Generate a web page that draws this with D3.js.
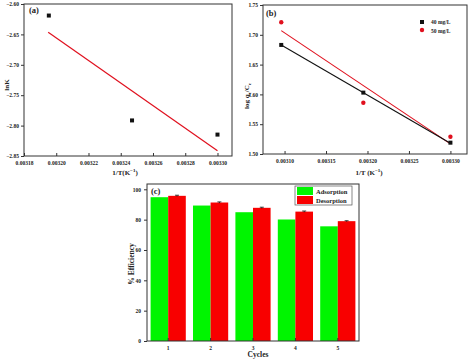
<!DOCTYPE html>
<html><head><meta charset="utf-8">
<script src="https://cdn.jsdelivr.net/npm/d3@7"></script>
<style>body{margin:0;background:#fff}svg{display:block}text{font-family:"Liberation Serif","Times New Roman",serif;font-weight:bold;fill:#222}</style>
</head><body>
<script>
// Panel (a)
const aX = [0.0031954, 0.003247, 0.003300];
const aY = [-2.619, -2.7915, -2.8148];
const aFitX = [0.003195, 0.003300];
const aFitY = [-2.6465, -2.8415];
const aXTicks = [0.00318, 0.00320, 0.00322, 0.00324, 0.00326, 0.00328, 0.00330];
const aYTicks = [-2.85, -2.80, -2.75, -2.70, -2.65, -2.60];
// Panel (b)
const bX = [0.003096, 0.003195, 0.003300];
const b40 = [1.683, 1.603, 1.519];
const b50 = [1.721, 1.586, 1.529];
const b40Fit = [1.683, 1.518];
const b50Fit = [1.707, 1.517];
const bFitX = [0.003096, 0.003300];
const bXTicks = [0.00310, 0.00315, 0.00320, 0.00325, 0.00330];
const bYTicks = [1.50, 1.55, 1.60, 1.65, 1.70, 1.75];
const bSeries = ["40 mg/L", "50 mg/L"];
// Panel (c)
const cycles = ["1", "2", "3", "4", "5"];
const adsorption = [94.8, 89.3, 84.9, 80.1, 75.6];
const desorption = [95.7, 91.3, 87.8, 85.3, 79.0];
const desErr = [0.4, 0.4, 0.4, 0.4, 0.3];
const cYTicks = [0, 20, 40, 60, 80, 100];
const cSeries = ["Adsorption", "Desorption"];

const W = 474, H = 361;
const svg = d3.select("body").append("svg").attr("width", W).attr("height", H);

function frame(g, x0, x1, y0, y1) {
  g.append("rect").attr("x", x0).attr("y", y0).attr("width", x1 - x0).attr("height", y1 - y0)
    .attr("fill", "none").attr("stroke", "#333").attr("stroke-width", 1);
}
function styleAxis(ax) {
  ax.select(".domain").remove();
  ax.selectAll("line").attr("stroke", "#333");
  ax.selectAll("text").style("font-size", "5.5px").attr("fill", "#222");
}

// ---------- (a)
{
  const L = 24, R = 232, T = 4, B = 156;
  const x = d3.scaleLinear().domain([0.00318, 0.003309]).range([L, R]);
  const y = d3.scaleLinear().domain([-2.85, -2.60]).range([B, T]);
  const g = svg.append("g");
  const xa = g.append("g").attr("transform", `translate(0,${B})`)
    .call(d3.axisBottom(x).tickValues(aXTicks).tickFormat(d3.format(".5f")).tickSizeInner(-3).tickSizeOuter(0).tickPadding(5));
  styleAxis(xa);
  const ya = g.append("g").attr("transform", `translate(${L},0)`)
    .call(d3.axisLeft(y).tickValues(aYTicks).tickFormat(d3.format(".2f")).tickSize(3).tickPadding(2));
  styleAxis(ya);
  frame(g, L, R, T, B);
  g.append("path").attr("fill", "none").attr("stroke", "#e0101e").attr("stroke-width", 1.2)
    .attr("d", d3.line().x(d => x(d[0])).y(d => y(d[1]))(aFitX.map((v, i) => [v, aFitY[i]])));
  g.selectAll(".pa").data(aX).enter().append("rect")
    .attr("x", (d) => x(d) - 2).attr("y", (d, i) => y(aY[i]) - 2).attr("width", 4).attr("height", 4).attr("fill", "#111");
  g.append("text").attr("x", 29).attr("y", 13).style("font-size", "8.5px").text("(a)");
  g.append("text").attr("transform", "translate(9,85) rotate(-90)").attr("text-anchor", "middle").style("font-size", "7px").text("lnK");
  const t = g.append("text").attr("x", 125).attr("y", 175).attr("text-anchor", "middle").style("font-size", "7px");
  t.append("tspan").text("1/T(K");
  t.append("tspan").attr("dy", -3).style("font-size", "5px").text("−1");
  t.append("tspan").attr("dy", 3).text(")");
}

// ---------- (b)
{
  const L = 263, R = 467, T = 5, B = 154;
  const x = d3.scaleLinear().domain([0.003074, 0.00332]).range([L, R]);
  const y = d3.scaleLinear().domain([1.50, 1.75]).range([B, T]);
  const g = svg.append("g");
  const xa = g.append("g").attr("transform", `translate(0,${B})`)
    .call(d3.axisBottom(x).tickValues(bXTicks).tickFormat(d3.format(".5f")).tickSizeInner(-3).tickSizeOuter(0).tickPadding(5));
  styleAxis(xa);
  const ya = g.append("g").attr("transform", `translate(${L},0)`)
    .call(d3.axisLeft(y).tickValues(bYTicks).tickFormat(d3.format(".2f")).tickSize(3).tickPadding(2));
  styleAxis(ya);
  frame(g, L, R, T, B);
  const line = d3.line().x(d => x(d[0])).y(d => y(d[1]));
  g.append("path").attr("fill", "none").attr("stroke", "#e0101e").attr("stroke-width", 1.1)
    .attr("d", line(bFitX.map((v, i) => [v, b50Fit[i]])));
  g.append("path").attr("fill", "none").attr("stroke", "#111").attr("stroke-width", 1.1)
    .attr("d", line(bFitX.map((v, i) => [v, b40Fit[i]])));
  g.selectAll(".p40").data(bX).enter().append("rect")
    .attr("x", d => x(d) - 2).attr("y", (d, i) => y(b40[i]) - 2).attr("width", 4).attr("height", 4).attr("fill", "#111");
  g.selectAll(".p50").data(bX).enter().append("circle")
    .attr("cx", d => x(d)).attr("cy", (d, i) => y(b50[i])).attr("r", 2.2).attr("fill", "#e0101e");
  // legend
  g.append("rect").attr("x", 420).attr("y", 20).attr("width", 4).attr("height", 4).attr("fill", "#111");
  g.append("circle").attr("cx", 422).attr("cy", 30).attr("r", 2.2).attr("fill", "#e0101e");
  g.append("text").attr("x", 431).attr("y", 24).style("font-size", "5.5px").text(bSeries[0]);
  g.append("text").attr("x", 431).attr("y", 32.5).style("font-size", "5.5px").text(bSeries[1]);
  g.append("text").attr("x", 266).attr("y", 16).style("font-size", "8.5px").text("(b)");
  const yl = g.append("text").attr("transform", "translate(249,96) rotate(-90)").attr("text-anchor", "middle").style("font-size", "7px");
  yl.append("tspan").text("log q");
  yl.append("tspan").attr("dy", 2).style("font-size", "5px").text("e");
  yl.append("tspan").attr("dy", -2).text("/C");
  yl.append("tspan").attr("dy", 2).style("font-size", "5px").text("e");
  const t = g.append("text").attr("x", 369).attr("y", 175).attr("text-anchor", "middle").style("font-size", "7px");
  t.append("tspan").text("1/T (K");
  t.append("tspan").attr("dy", -3).style("font-size", "5px").text("−1");
  t.append("tspan").attr("dy", 3).text(")");
}

// ---------- (c)
{
  const L = 147, R = 359, T = 184, B = 341;
  const x = d3.scaleBand().domain(cycles).range([L, R]).paddingInner(0.17).paddingOuter(0.085);
  const xs = d3.scaleBand().domain(cSeries).range([0, x.bandwidth()]);
  const y = d3.scaleLinear().domain([0, 103.5]).range([B, T]);
  const g = svg.append("g");
  const colors = { "Adsorption": "#00f500", "Desorption": "#f80000" };
  const data = cycles.map((c, i) => ({ c, vals: [{ s: "Adsorption", v: adsorption[i] }, { s: "Desorption", v: desorption[i], e: desErr[i] }] }));
  const grp = g.selectAll(".grp").data(data).enter().append("g").attr("transform", d => `translate(${x(d.c)},0)`);
  grp.selectAll("rect").data(d => d.vals).enter().append("rect")
    .attr("x", d => xs(d.s)).attr("width", xs.bandwidth())
    .attr("y", d => y(d.v)).attr("height", d => B - y(d.v)).attr("fill", d => colors[d.s]);
  const eb = grp.selectAll(".eb").data(d => d.vals.filter(v => v.e)).enter().append("g");
  eb.append("line").attr("x1", d => xs(d.s) + xs.bandwidth() / 2).attr("x2", d => xs(d.s) + xs.bandwidth() / 2)
    .attr("y1", d => y(d.v + d.e)).attr("y2", d => y(d.v - d.e)).attr("stroke", "#111").attr("stroke-width", 0.8);
  eb.append("line").attr("x1", d => xs(d.s) + xs.bandwidth() / 2 - 2).attr("x2", d => xs(d.s) + xs.bandwidth() / 2 + 2)
    .attr("y1", d => y(d.v + d.e)).attr("y2", d => y(d.v + d.e)).attr("stroke", "#111").attr("stroke-width", 0.8);
  const xa = g.append("g").attr("transform", `translate(0,${B})`)
    .call(d3.axisBottom(x).tickSizeInner(-3).tickSizeOuter(0).tickPadding(5));
  styleAxis(xa);
  const ya = g.append("g").attr("transform", `translate(${L},0)`)
    .call(d3.axisLeft(y).tickValues(cYTicks).tickFormat(d3.format("d")).tickSize(3).tickPadding(3));
  styleAxis(ya);
  frame(g, L, R, T, B);
  // legend
  g.append("rect").attr("x", 295).attr("y", 186).attr("width", 57).attr("height", 19).attr("fill", "#fff").attr("stroke", "#555").attr("stroke-width", 0.7);
  cSeries.forEach((s, i) => {
    g.append("rect").attr("x", 297).attr("y", 187 + i * 9).attr("width", 16).attr("height", 8).attr("fill", colors[s]);
    g.append("text").attr("x", 316).attr("y", 193.5 + i * 9).style("font-size", "6.5px").text(s);
  });
  g.append("text").attr("x", 151).attr("y", 194).style("font-size", "8.5px").text("(c)");
  g.append("text").attr("transform", "translate(134,264) rotate(-90)").attr("text-anchor", "middle").style("font-size", "7.5px").text("% Efficiency");
  g.append("text").attr("x", 258).attr("y", 357).attr("text-anchor", "middle").style("font-size", "7.5px").text("Cycles");
}
</script>
</body></html>
